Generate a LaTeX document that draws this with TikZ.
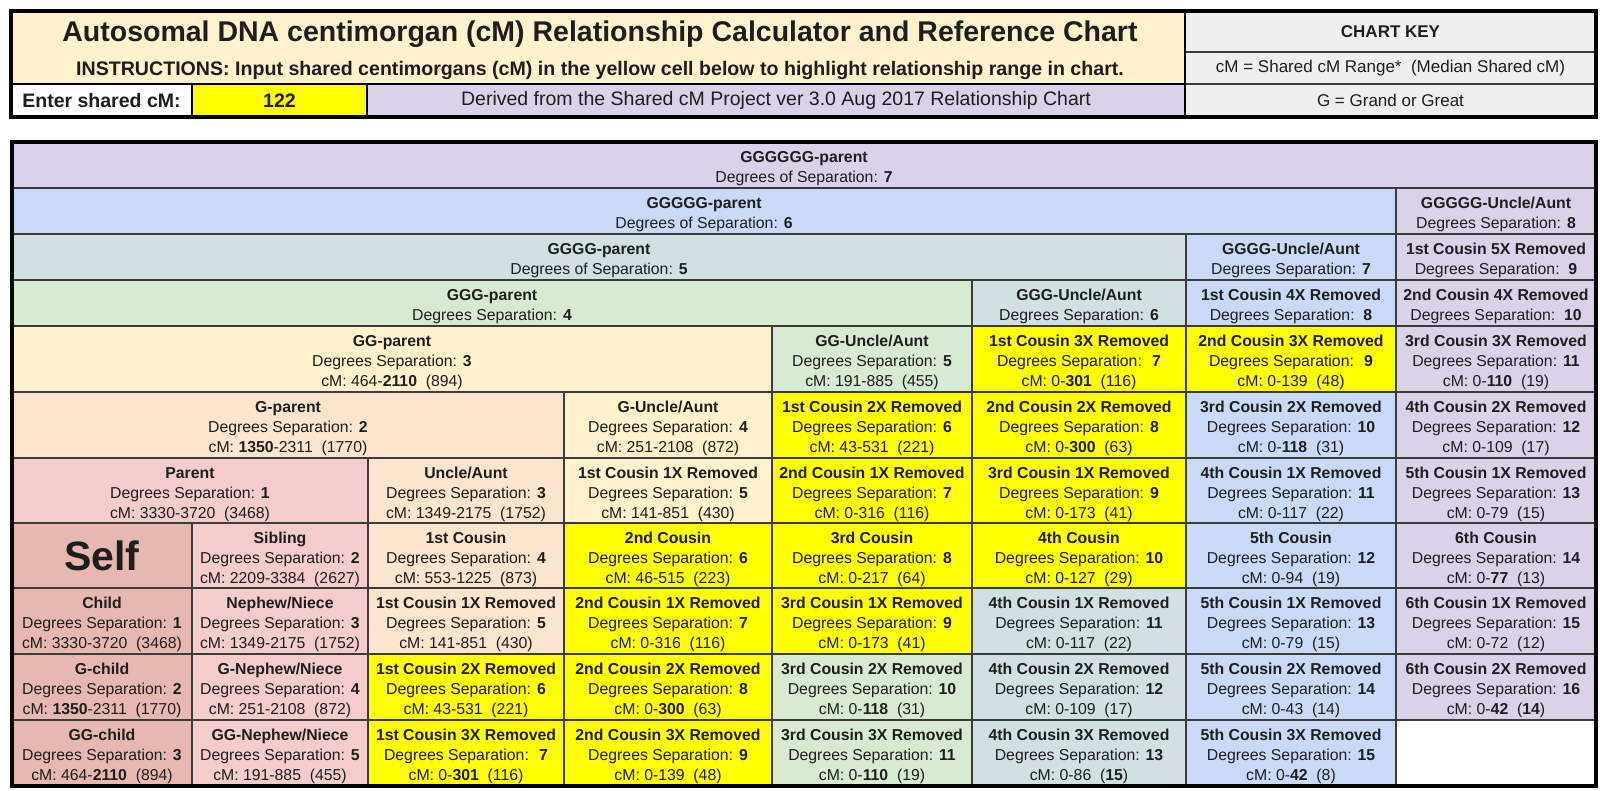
\documentclass[tikz,border=0pt]{standalone}
\usepackage{xcolor}
\usepackage{fontspec}
\setmainfont{Liberation Sans}
\usepackage{tikz}

\definecolor{lav}{HTML}{D9D2E9}
\definecolor{sky}{HTML}{C9DAF8}
\definecolor{slate}{HTML}{D0E0E3}
\definecolor{mint}{HTML}{D9EAD3}
\definecolor{cream}{HTML}{FFF2CC}
\definecolor{peach}{HTML}{FCE5CD}
\definecolor{rose}{HTML}{F4CCCC}
\definecolor{blush}{HTML}{E6B8AF}
\definecolor{hilite}{HTML}{FFFF00}
\definecolor{keygrey}{HTML}{EFEFEF}
\definecolor{linegrey}{HTML}{3C3C3C}
\definecolor{ink}{HTML}{1E1E1E}

\newcommand{\cellfont}{\fontsize{15.8}{20}\selectfont}
\newcommand{\keyfont}{\fontsize{17}{20}\selectfont}

\tikzset{
  cell/.style={draw=linegrey, line width=1.2pt, inner sep=0pt, align=center, font=\cellfont, text=ink},
  hdr/.style={draw=black, line width=2.5pt, inner sep=0pt, align=center, text=ink},
  keycell/.style={draw=linegrey, line width=1.2pt, fill=keygrey, inner sep=0pt, font=\keyfont, text=ink},
  frame/.style={draw=black, line width=3.5pt, inner sep=0pt}
}

% column and row edges of the chart
\def\colx{{12,192,368,564,772,972,1186,1396,1596}}
\def\rowy{{142,188,234,280,326,392,458,523,588,654,720,786}}

% \cell{name}{first col}{first row}{end col}{end row}{fill}{text}
\newcommand{\cell}[7]{%
  \pgfmathsetmacro\xl{\colx[#2]}\pgfmathsetmacro\xr{\colx[#4]}%
  \pgfmathsetmacro\yt{\rowy[#3]}\pgfmathsetmacro\yb{\rowy[#5]}%
  \node[cell, fill=#6, minimum width=\xr pt-\xl pt, minimum height=\yb pt-\yt pt]
    (#1) at ({(\xl+\xr)/2},{(\yt+\yb)/2}) {\rule{0pt}{19pt}#7};}

% \rel{relation}{degrees}{range}{median}
\newcommand{\rel}[4]{\textbf{#1}\\Degrees Separation: \textbf{#2}\\cM: #3\ \ (#4)}

\begin{document}
\begin{tikzpicture}[x=1pt, y=-1pt]
  \useasboundingbox (0,0) rectangle (1600,790);

  % header
  \node[keycell, minimum width=411pt, minimum height=41pt] (keyhead) at (1390.5,31.5) {\textbf{CHART KEY}};
  \node[keycell, minimum width=411pt, minimum height=32pt] (keycm) at (1390.5,68) {cM = Shared cM Range*\ \ (Median Shared cM)};
  \node[keycell, minimum width=411pt, minimum height=33pt] (keyg) at (1390.5,100.5) {G = Grand or Great};
  \node[hdr, fill=cream, minimum width=1174pt, minimum height=73pt] (titlecell) at (598,47.5) {};
  \node[text=ink, font=\fontsize{28.5}{32}\selectfont\bfseries] (title) at (600,34)
    {Autosomal DNA centimorgan (cM) Relationship Calculator and Reference Chart};
  \node[text=ink, font=\fontsize{19.6}{22}\selectfont\bfseries] (instr) at (600,70)
    {INSTRUCTIONS: Input shared centimorgans (cM) in the yellow cell below to highlight relationship range in chart.};
  \node[hdr, fill=white, minimum width=181pt, minimum height=33pt, font=\fontsize{19.5}{22}\selectfont\bfseries] (enter) at (101.5,100.5) {Enter shared cM:};
  \node[hdr, fill=hilite, minimum width=175pt, minimum height=33pt, font=\fontsize{19.5}{22}\selectfont\bfseries] (input) at (279.5,100.5) {122};
  \node[hdr, fill=lav, minimum width=818pt, minimum height=33pt, font=\fontsize{19.5}{22}\selectfont] (source) at (776,100.5)
    {Derived from the Shared cM Project ver 3.0 Aug 2017 Relationship Chart};
  \node[frame, minimum width=1585pt, minimum height=106pt] (header) at (803.5,64) {};

  % ancestors and their lines
  \cell{p7}{0}{0}{8}{1}{lav}{\textbf{GGGGGG-parent}\\Degrees of Separation: \textbf{7}}
  \cell{p6}{0}{1}{7}{2}{sky}{\textbf{GGGGG-parent}\\Degrees of Separation: \textbf{6}}
  \cell{u6}{7}{1}{8}{2}{lav}{\textbf{GGGGG-Uncle/Aunt}\\Degrees Separation: \textbf{8}}
  \cell{p5}{0}{2}{6}{3}{slate}{\textbf{GGGG-parent}\\Degrees of Separation: \textbf{5}}
  \cell{u5}{6}{2}{7}{3}{sky}{\textbf{GGGG-Uncle/Aunt}\\Degrees Separation: \textbf{7}}
  \cell{c1x5}{7}{2}{8}{3}{lav}{\textbf{1st Cousin 5X Removed}\\Degrees Separation:\ \ \textbf{9}}
  \cell{p4}{0}{3}{5}{4}{mint}{\textbf{GGG-parent}\\Degrees Separation: \textbf{4}}
  \cell{u4}{5}{3}{6}{4}{slate}{\textbf{GGG-Uncle/Aunt}\\Degrees Separation: \textbf{6}}
  \cell{c1x4}{6}{3}{7}{4}{sky}{\textbf{1st Cousin 4X Removed}\\Degrees Separation:\ \ \textbf{8}}
  \cell{c2x4}{7}{3}{8}{4}{lav}{\textbf{2nd Cousin 4X Removed}\\Degrees Separation:\ \ \textbf{10}}

  \cell{p3}{0}{4}{4}{5}{cream}{\rel{GG-parent}{3}{464-\textbf{2110}}{894}}
  \cell{u3}{4}{4}{5}{5}{mint}{\rel{GG-Uncle/Aunt}{5}{191-885}{455}}
  \cell{c1x3a}{5}{4}{6}{5}{hilite}{\rel{1st Cousin 3X Removed}{\ 7}{0-\textbf{301}}{116}}
  \cell{c2x3a}{6}{4}{7}{5}{hilite}{\rel{2nd Cousin 3X Removed}{\ 9}{0-139}{48}}
  \cell{c3x3a}{7}{4}{8}{5}{lav}{\rel{3rd Cousin 3X Removed}{11}{0-\textbf{110}}{19}}

  \cell{p2}{0}{5}{3}{6}{peach}{\rel{G-parent}{2}{\textbf{1350}-2311}{1770}}
  \cell{u2}{3}{5}{4}{6}{cream}{\rel{G-Uncle/Aunt}{4}{251-2108}{872}}
  \cell{c1x2a}{4}{5}{5}{6}{hilite}{\rel{1st Cousin 2X Removed}{6}{43-531}{221}}
  \cell{c2x2a}{5}{5}{6}{6}{hilite}{\rel{2nd Cousin 2X Removed}{8}{0-\textbf{300}}{63}}
  \cell{c3x2a}{6}{5}{7}{6}{sky}{\rel{3rd Cousin 2X Removed}{10}{0-\textbf{118}}{31}}
  \cell{c4x2a}{7}{5}{8}{6}{lav}{\rel{4th Cousin 2X Removed}{12}{0-109}{17}}

  \cell{p1}{0}{6}{2}{7}{rose}{\rel{Parent}{1}{3330-3720}{3468}}
  \cell{u1}{2}{6}{3}{7}{peach}{\rel{Uncle/Aunt}{3}{1349-2175}{1752}}
  \cell{c1x1a}{3}{6}{4}{7}{cream}{\rel{1st Cousin 1X Removed}{5}{141-851}{430}}
  \cell{c2x1a}{4}{6}{5}{7}{hilite}{\rel{2nd Cousin 1X Removed}{7}{0-316}{116}}
  \cell{c3x1a}{5}{6}{6}{7}{hilite}{\rel{3rd Cousin 1X Removed}{9}{0-173}{41}}
  \cell{c4x1a}{6}{6}{7}{7}{sky}{\rel{4th Cousin 1X Removed}{11}{0-117}{22}}
  \cell{c5x1a}{7}{6}{8}{7}{lav}{\rel{5th Cousin 1X Removed}{13}{0-79}{15}}

  % self and cousins
  \cell{self}{0}{7}{1}{8}{blush}{\fontsize{41}{44}\selectfont\bfseries Self}
  \cell{sib}{1}{7}{2}{8}{rose}{\rel{Sibling}{2}{2209-3384}{2627}}
  \cell{c1}{2}{7}{3}{8}{peach}{\rel{1st Cousin}{4}{553-1225}{873}}
  \cell{c2}{3}{7}{4}{8}{hilite}{\rel{2nd Cousin}{6}{46-515}{223}}
  \cell{c3}{4}{7}{5}{8}{hilite}{\rel{3rd Cousin}{8}{0-217}{64}}
  \cell{c4}{5}{7}{6}{8}{hilite}{\rel{4th Cousin}{10}{0-127}{29}}
  \cell{c5}{6}{7}{7}{8}{sky}{\rel{5th Cousin}{12}{0-94}{19}}
  \cell{c6}{7}{7}{8}{8}{lav}{\rel{6th Cousin}{14}{0-\textbf{77}}{13}}

  % descendants and their lines
  \cell{ch1}{0}{8}{1}{9}{blush}{\rel{Child}{1}{3330-3720}{3468}}
  \cell{n1}{1}{8}{2}{9}{rose}{\rel{Nephew/Niece}{3}{1349-2175}{1752}}
  \cell{c1x1b}{2}{8}{3}{9}{peach}{\rel{1st Cousin 1X Removed}{5}{141-851}{430}}
  \cell{c2x1b}{3}{8}{4}{9}{hilite}{\rel{2nd Cousin 1X Removed}{7}{0-316}{116}}
  \cell{c3x1b}{4}{8}{5}{9}{hilite}{\rel{3rd Cousin 1X Removed}{9}{0-173}{41}}
  \cell{c4x1b}{5}{8}{6}{9}{slate}{\rel{4th Cousin 1X Removed}{11}{0-117}{22}}
  \cell{c5x1b}{6}{8}{7}{9}{sky}{\rel{5th Cousin 1X Removed}{13}{0-79}{15}}
  \cell{c6x1b}{7}{8}{8}{9}{lav}{\rel{6th Cousin 1X Removed}{15}{0-72}{12}}

  \cell{ch2}{0}{9}{1}{10}{blush}{\rel{G-child}{2}{\textbf{1350}-2311}{1770}}
  \cell{n2}{1}{9}{2}{10}{rose}{\rel{G-Nephew/Niece}{4}{251-2108}{872}}
  \cell{c1x2b}{2}{9}{3}{10}{hilite}{\rel{1st Cousin 2X Removed}{6}{43-531}{221}}
  \cell{c2x2b}{3}{9}{4}{10}{hilite}{\rel{2nd Cousin 2X Removed}{8}{0-\textbf{300}}{63}}
  \cell{c3x2b}{4}{9}{5}{10}{mint}{\rel{3rd Cousin 2X Removed}{10}{0-\textbf{118}}{31}}
  \cell{c4x2b}{5}{9}{6}{10}{slate}{\rel{4th Cousin 2X Removed}{12}{0-109}{17}}
  \cell{c5x2b}{6}{9}{7}{10}{sky}{\rel{5th Cousin 2X Removed}{14}{0-43}{14}}
  \cell{c6x2b}{7}{9}{8}{10}{lav}{\rel{6th Cousin 2X Removed}{16}{0-\textbf{42}}{\textbf{14}}}

  \cell{ch3}{0}{10}{1}{11}{blush}{\rel{GG-child}{3}{464-\textbf{2110}}{894}}
  \cell{n3}{1}{10}{2}{11}{rose}{\rel{GG-Nephew/Niece}{5}{191-885}{455}}
  \cell{c1x3b}{2}{10}{3}{11}{hilite}{\rel{1st Cousin 3X Removed}{\ 7}{0-\textbf{301}}{116}}
  \cell{c2x3b}{3}{10}{4}{11}{hilite}{\rel{2nd Cousin 3X Removed}{9}{0-139}{48}}
  \cell{c3x3b}{4}{10}{5}{11}{mint}{\rel{3rd Cousin 3X Removed}{11}{0-\textbf{110}}{19}}
  \cell{c4x3b}{5}{10}{6}{11}{slate}{\rel{4th Cousin 3X Removed}{13}{0-86}{\textbf{15}}}
  \cell{c5x3b}{6}{10}{7}{11}{sky}{\rel{5th Cousin 3X Removed}{15}{0-\textbf{42}}{8}}
  \cell{blank}{7}{10}{8}{11}{white}{}

  \node[frame, minimum width=1584pt, minimum height=644pt] (chart) at (804,464) {};
\end{tikzpicture}
\end{document}
